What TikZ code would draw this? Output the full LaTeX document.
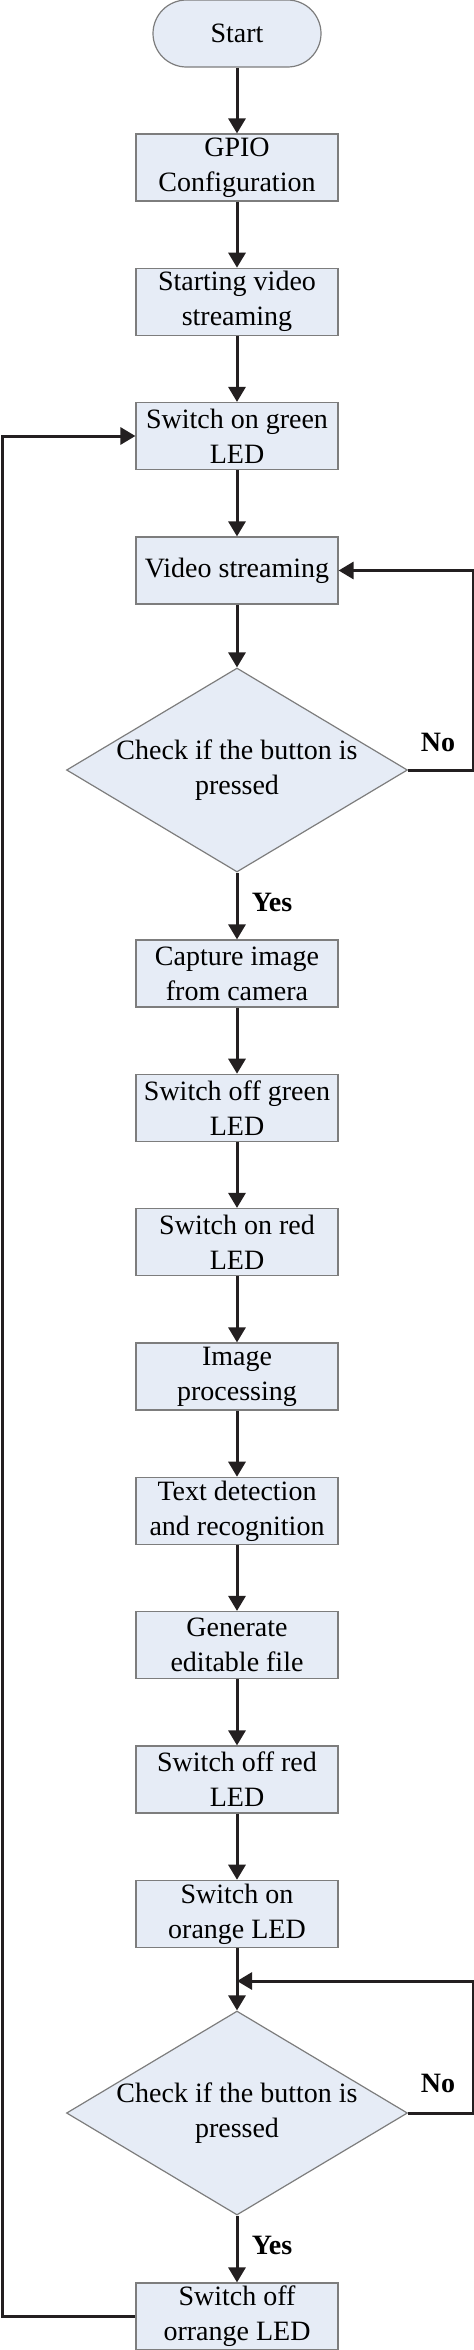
\documentclass[tikz,border=0pt]{standalone}
\usepackage{fontspec}
\setmainfont{Liberation Serif}
\usetikzlibrary{shapes,arrows.meta}
\definecolor{boxfill}{RGB}{230,236,246}
\definecolor{boxline}{RGB}{125,125,125}
\definecolor{lineclr}{RGB}{35,31,32}

\begin{document}
\begin{tikzpicture}[x=0.5pt,y=-0.5pt,>={Triangle[length=7.5pt,width=8.5pt]}]
\tikzstyle{stepbox}=[rectangle,draw=boxline,fill=boxfill,line width=0.6pt,minimum width=101pt,minimum height=33.5pt,inner sep=0pt,align=center,font=\fontsize{14}{17.5}\selectfont]
\tikzstyle{startbox}=[stepbox,minimum width=84pt,rounded corners=16.75pt]
\tikzstyle{checkbox}=[diamond,draw=boxline,fill=boxfill,line width=0.6pt,aspect=1.67,inner sep=-2pt,minimum width=170.5pt,minimum height=102pt,align=center,font=\fontsize{14}{17.5}\selectfont]
\tikzstyle{answer}=[font=\fontsize{14}{17.5}\selectfont\bfseries,inner sep=0pt]
\tikzstyle{flow}=[->,draw=lineclr,line width=1.5pt]
\useasboundingbox (0,0) rectangle (474,2350);

\node[startbox](start) at (237,33.5) {Start};
\node[stepbox](gpio) at (237,167.5) {GPIO\\Configuration};
\node[stepbox](stream) at (237,301.8) {Starting video\\streaming};
\node[stepbox](green) at (237,436) {Switch on green\\LED};
\node[stepbox](video) at (237,570.5) {Video streaming};
\node[checkbox](check) at (237,770) {Check if the button is\\pressed};
\node[stepbox](capture) at (237,973.5) {Capture image\\from camera};
\node[stepbox](offgreen) at (237,1107.8) {Switch off green\\LED};
\node[stepbox](red) at (237,1242) {Switch on red\\LED};
\node[stepbox](proc) at (237,1376.5) {Image\\processing};
\node[stepbox](ocr) at (237,1510.8) {Text detection\\and recognition};
\node[stepbox](gen) at (237,1645) {Generate\\editable file};
\node[stepbox](offred) at (237,1779.5) {Switch off red\\LED};
\node[stepbox](orange) at (237,1913.8) {Switch on\\orange LED};
\node[checkbox](checkb) at (237,2113) {Check if the button is\\pressed};
\node[stepbox](offorange) at (237,2316.5) {Switch off\\orrange LED};
\coordinate (merge) at (237,1981);

\node[answer](no) at (438,742) {No};
\node[answer](yes) at (272,902) {Yes};
\node[answer](nob) at (438,2083) {No};
\node[answer](yesb) at (272,2245) {Yes};

\draw[flow] (start) -- (gpio);
\draw[flow] (gpio) -- (stream);
\draw[flow] (stream) -- (green);
\draw[flow] (green) -- (video);
\draw[flow] (video) -- (check);
\draw[flow] (check) -- (capture);
\draw[flow] (check.east) -- ++(65,0) |- (video.east);
\draw[flow] (capture) -- (offgreen);
\draw[flow] (offgreen) -- (red);
\draw[flow] (red) -- (proc);
\draw[flow] (proc) -- (ocr);
\draw[flow] (ocr) -- (gen);
\draw[flow] (gen) -- (offred);
\draw[flow] (offred) -- (orange);
\draw[flow] (orange) -- (checkb);
\draw[flow] (checkb.east) -- ++(65,0) |- (merge);
\draw[flow] (checkb) -- (offorange);
\draw[flow] (offorange.west) -- ++(-133,0) |- (green.west);
\end{tikzpicture}
\end{document}
